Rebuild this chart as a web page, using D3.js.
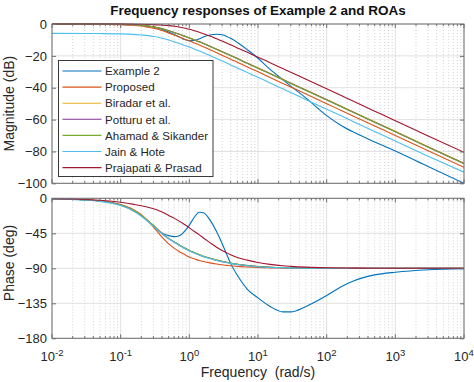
<!DOCTYPE html>
<html><head><meta charset="utf-8">
<script src="https://cdn.jsdelivr.net/npm/d3@7"></script>
<style>
html,body{margin:0;padding:0;background:#fff;}
svg{display:block;font-family:"Liberation Sans",Arial,Helvetica,sans-serif;}
</style></head>
<body><svg id="chart" width="474" height="382"></svg>
<script>
// ---------------- data ----------------
const freq = [0.01,0.03,0.05,0.1,0.15,0.2,0.25,0.3,0.35,0.4,0.5,0.6,0.7,0.8,0.9,1.0,1.2,1.4,1.6,2.0,2.5,3.0,3.5,4.0,5.0,7.0,10,15,23,30,50,100,160,250,500,1000,3000,10000];
const seriesNames = ["Example 2","Proposed","Biradar et al.","Potturu et al.","Ahamad & Sikander","Jain & Hote","Prajapati & Prasad"];

const magExample2 = [0,0,0,-0.1,-0.3,-0.7,-1.2,-1.8,-2.6,-3.4,-5.0,-6.6,-8.0,-9.2,-10.0,-10.5,-10.3,-9.3,-8.2,-6.9,-6.4,-6.8,-7.8,-9.0,-11.6,-16.2,-21.5,-28.5,-35,-39,-46.5,-57.5,-63.5,-68,-74,-79.8,-89.5,-100];
const magProposed = [0,-0.05,-0.1,-0.4,-0.8,-1.3,-2.0,-2.6,-3.3,-4.1,-5.6,-6.9,-8.0,-9.0,-9.9,-10.6,-12.0,-13.2,-14.3,-16.1,-18.0,-19.6,-20.9,-22.1,-24.0,-27.0,-30.0,-33.6,-37.3,-39.6,-44,-50,-54.1,-58,-64,-70,-79.5,-90];
const magBiradar = [0,0,-0.1,-0.25,-0.5,-0.85,-1.3,-1.8,-2.4,-3.0,-4.2,-5.3,-6.3,-7.2,-8.0,-8.7,-10.0,-11.1,-12.1,-13.9,-15.8,-17.3,-18.6,-19.7,-21.6,-24.5,-27.5,-31.0,-34.7,-37.0,-41.4,-47.4,-51.5,-55.4,-61.4,-67.4,-77,-87.3];
const magPotturu = [0,0,-0.1,-0.25,-0.5,-0.85,-1.3,-1.8,-2.4,-3.0,-4.2,-5.3,-6.3,-7.2,-8.0,-8.8,-10.1,-11.2,-12.2,-14.0,-15.9,-17.4,-18.7,-19.8,-21.7,-24.7,-27.7,-31.2,-34.9,-37.2,-41.6,-47.6,-51.7,-55.6,-61.6,-67.6,-77.2,-87.6];
const magAhamad = [0,0,-0.1,-0.25,-0.5,-0.85,-1.3,-1.8,-2.4,-3.0,-4.2,-5.3,-6.3,-7.2,-8.0,-8.8,-10.1,-11.3,-12.3,-14.1,-16.0,-17.5,-18.8,-19.9,-21.8,-24.8,-27.8,-31.3,-35.0,-37.3,-41.7,-47.7,-51.8,-55.7,-61.7,-67.7,-77.3,-87.8];
const magJain = [-5.9,-5.95,-6.0,-6.2,-6.5,-6.9,-7.3,-7.8,-8.3,-8.9,-10.0,-11.1,-12.1,-13.0,-13.8,-14.5,-15.8,-17.0,-18.0,-19.8,-21.7,-23.2,-24.5,-25.7,-27.6,-30.5,-33.5,-37,-40.7,-43,-47.5,-53.5,-57.5,-61.5,-67.5,-73.5,-83,-93];
const magPrajapati = [0,0,0,-0.05,-0.1,-0.2,-0.3,-0.4,-0.55,-0.7,-1.0,-1.4,-1.85,-2.3,-2.8,-3.3,-4.3,-5.2,-6.1,-7.6,-9.3,-10.7,-12.0,-13.1,-15.0,-17.8,-20.8,-24.3,-28,-30.3,-34.7,-40.7,-44.8,-48.7,-54.7,-60.7,-70.3,-80.5];

const phaseExample2 = [-0.6,-2,-3.5,-8.5,-15,-22,-29,-35,-40.5,-44.5,-48,-49.3,-48.5,-45,-40,-34.5,-23.5,-18,-18.5,-28,-43,-58,-72,-84,-99,-117,-128,-139,-146,-146,-139,-125,-114,-106,-98.5,-95,-91.8,-90.5];
const phaseProposed = [-0.5,-1.8,-3.2,-8,-14,-21,-29,-37,-44,-50,-58.5,-64,-68,-71,-73.5,-75.5,-78,-80,-81.3,-83,-84.5,-85.5,-86.2,-86.8,-87.5,-88.3,-89,-89.4,-89.7,-89.8,-90,-90,-90,-90,-90,-90,-90,-90];
const phaseBiradar = [-0.6,-2,-3.5,-8.5,-15,-22,-29,-35,-40.5,-45,-51.5,-56,-59.5,-62.5,-65,-67,-70,-72.5,-74.5,-77,-79.5,-81,-82.3,-83.3,-84.8,-86.5,-87.7,-88.6,-89.2,-89.4,-89.7,-89.9,-90,-90,-90,-90,-90,-90];
const phasePotturu = [-0.6,-2,-3.6,-8.7,-15.2,-22.3,-29.3,-35.3,-40.8,-45.3,-51.8,-56.3,-59.8,-62.8,-65.3,-67.3,-70.3,-72.8,-74.8,-77.2,-79.7,-81.2,-82.5,-83.5,-85,-86.6,-87.8,-88.7,-89.2,-89.4,-89.7,-89.9,-90,-90,-90,-90,-90,-90];
const phaseAhamad = [-0.6,-2,-3.5,-8.5,-15,-22,-29,-35,-40.5,-45,-51.5,-56,-59.5,-62.5,-65,-67,-70,-72.5,-74.5,-77,-79.5,-81,-82.3,-83.3,-84.8,-86.5,-87.7,-88.6,-89.2,-89.4,-89.7,-89.9,-90,-90,-90,-90,-90,-90];
const phaseJain = [-0.7,-2.3,-4,-9.3,-16,-23,-30,-36,-41.3,-45.5,-52,-56.5,-60,-63,-65.5,-67.5,-70.5,-73,-75,-77.5,-80,-81.5,-82.7,-83.7,-85.2,-86.8,-88,-88.8,-89.3,-89.5,-89.8,-90,-90,-90,-90,-90,-90,-90];
const phasePrajapati = [-0.5,-1.5,-2.5,-5,-7.5,-9.5,-11.5,-13.5,-15.5,-17.5,-22,-25.5,-29,-32,-35,-38,-43,-47,-51,-57,-63,-67,-70,-72.5,-76,-79.5,-82.5,-85,-86.8,-87.5,-88.5,-89.3,-89.6,-89.8,-90,-90,-90,-90];

const magTicks = [0,-20,-40,-60,-80,-100];
const phaseTicks = [0,-45,-90,-135,-180];
const freqTicks = [1e-2,1e-1,1e0,1e1,1e2,1e3,1e4];
const freqExponents = ["-2","-1","0","1","2","3","4"];

// ---------------- styling ----------------
const colors = ["#0072BD","#D95319","#EDB120","#7E2F8E","#77AC30","#4DBEEE","#A2142F"];
const magSeries = [magExample2,magProposed,magBiradar,magPotturu,magAhamad,magJain,magPrajapati];
const phaseSeries = [phaseExample2,phaseProposed,phaseBiradar,phasePotturu,phaseAhamad,phaseJain,phasePrajapati];

const svg = d3.select("#chart");
const L = 52, R = 464;
const magTop = 24, magBot = 183.3, phTop = 198.3, phBot = 338.3;
const axisColor = "#6e6e6e";

const x = d3.scaleLog().domain([1e-2,1e4]).range([L,R]);
const yMag = d3.scaleLinear().domain([-100,0]).range([magBot,magTop]);
const yPh = d3.scaleLinear().domain([-180,0]).range([phBot,phTop]);

// minor frequency values
const minorFreqs = [];
for (let e=-2;e<4;e++) for (let k=2;k<=9;k++) minorFreqs.push(k*Math.pow(10,e));

function panel(y, top, bot, ticks) {
  const g = svg.append("g");
  // minor grid (dotted)
  g.selectAll("line.mg").data(minorFreqs).join("line")
    .attr("x1",d=>x(d)).attr("x2",d=>x(d)).attr("y1",top).attr("y2",bot)
    .attr("stroke","#c8c8c8").attr("stroke-width",0.8).attr("stroke-dasharray","1,2");
  // major grid
  g.selectAll("line.Mg").data(freqTicks).join("line")
    .attr("x1",d=>x(d)).attr("x2",d=>x(d)).attr("y1",top).attr("y2",bot)
    .attr("stroke","#dedede").attr("stroke-width",0.9);
  g.selectAll("line.hg").data(ticks).join("line")
    .attr("x1",L).attr("x2",R).attr("y1",d=>y(d)).attr("y2",d=>y(d))
    .attr("stroke","#dedede").attr("stroke-width",0.9);
  return g;
}
function frame(y, top, bot, ticks) {
  const g = svg.append("g");
  // left axis with inside ticks
  const la = g.append("g").attr("transform",`translate(${L},0)`)
    .call(d3.axisLeft(y).tickValues(ticks).tickSizeInner(-4).tickSizeOuter(0).tickPadding(5));
  la.select(".domain").remove();
  la.selectAll("line").attr("stroke",axisColor);
  la.selectAll("text").attr("font-size",13).attr("fill","#262626")
    .attr("font-family","'Liberation Sans',Arial,sans-serif");
  const ra = g.append("g").attr("transform",`translate(${R},0)`)
    .call(d3.axisRight(y).tickValues(ticks).tickSizeInner(-4).tickSizeOuter(0).tickFormat(""));
  ra.select(".domain").remove();
  ra.selectAll("line").attr("stroke",axisColor);
  // x ticks top & bottom (major + minor)
  [[top,1],[bot,-1]].forEach(([yy,dir])=>{
    g.selectAll(null).data(freqTicks).join("line")
      .attr("x1",d=>x(d)).attr("x2",d=>x(d)).attr("y1",yy).attr("y2",yy+dir*4)
      .attr("stroke",axisColor);
    g.selectAll(null).data(minorFreqs).join("line")
      .attr("x1",d=>x(d)).attr("x2",d=>x(d)).attr("y1",yy).attr("y2",yy+dir*2.2)
      .attr("stroke",axisColor);
  });
  g.append("rect").attr("x",L).attr("y",top).attr("width",R-L).attr("height",bot-top)
    .attr("fill","none").attr("stroke",axisColor).attr("stroke-width",1);
}

const clipM = svg.append("clipPath").attr("id","cm").append("rect")
  .attr("x",L).attr("y",magTop-1).attr("width",R-L).attr("height",magBot-magTop+2);
const clipP = svg.append("clipPath").attr("id","cp").append("rect")
  .attr("x",L).attr("y",phTop-1).attr("width",R-L).attr("height",phBot-phTop+2);

panel(yMag, magTop, magBot, magTicks);
panel(yPh, phTop, phBot, phaseTicks);

const lineMag = d3.line().x((d,i)=>x(freq[i])).y(d=>yMag(d)).curve(d3.curveMonotoneX);
const linePh = d3.line().x((d,i)=>x(freq[i])).y(d=>yPh(d)).curve(d3.curveMonotoneX);

const gm = svg.append("g").attr("clip-path","url(#cm)");
magSeries.forEach((s,i)=>{
  gm.append("path").attr("d",lineMag(s)).attr("fill","none")
    .attr("stroke",colors[i]).attr("stroke-width",1.1);
});
const gp = svg.append("g").attr("clip-path","url(#cp)");
phaseSeries.forEach((s,i)=>{
  gp.append("path").attr("d",linePh(s)).attr("fill","none")
    .attr("stroke",colors[i]).attr("stroke-width",1.1);
});

frame(yMag, magTop, magBot, magTicks);
frame(yPh, phTop, phBot, phaseTicks);

// x tick labels with superscripts
const xl = svg.append("g").selectAll("text").data(freqTicks).join("text")
  .attr("x",d=>x(d)).attr("y",361).attr("text-anchor","middle")
  .attr("font-size",13).attr("fill","#262626");
xl.append("tspan").text("10");
xl.append("tspan").attr("dy",-5.5).attr("font-size",9.5).text((d,i)=>freqExponents[i]);

// axis titles
svg.append("text").attr("x",(L+R)/2).attr("y",377).attr("text-anchor","middle")
  .attr("font-size",14).attr("fill","#262626").attr("xml:space","preserve").text("Frequency  (rad/s)");
svg.append("text").attr("transform",`translate(14,${(magTop+magBot)/2}) rotate(-90)`)
  .attr("text-anchor","middle").attr("font-size",14).attr("fill","#262626").text("Magnitude (dB)");
svg.append("text").attr("transform",`translate(14,263) rotate(-90)`)
  .attr("text-anchor","middle").attr("font-size",14).attr("fill","#262626").text("Phase (deg)");
svg.append("text").attr("x",(L+R)/2).attr("y",15).attr("text-anchor","middle")
  .attr("font-size",13.5).attr("font-weight","bold").attr("fill","#111").text("Frequency responses of Example 2 and ROAs");

// legend
const leg = svg.append("g");
leg.append("rect").attr("x",58.5).attr("y",60.5).attr("width",154.5).attr("height",116)
  .attr("fill","#fff").attr("stroke","#3a3a3a").attr("stroke-width",1);
seriesNames.forEach((n,i)=>{
  const yy = 71 + i*16.1;
  leg.append("line").attr("x1",62.5).attr("x2",101.5).attr("y1",yy).attr("y2",yy)
    .attr("stroke",colors[i]).attr("stroke-width",1.1);
  leg.append("text").attr("x",105).attr("y",yy+4.2).attr("font-size",11.6)
    .attr("fill","#262626").text(n);
});
</script></body></html>
